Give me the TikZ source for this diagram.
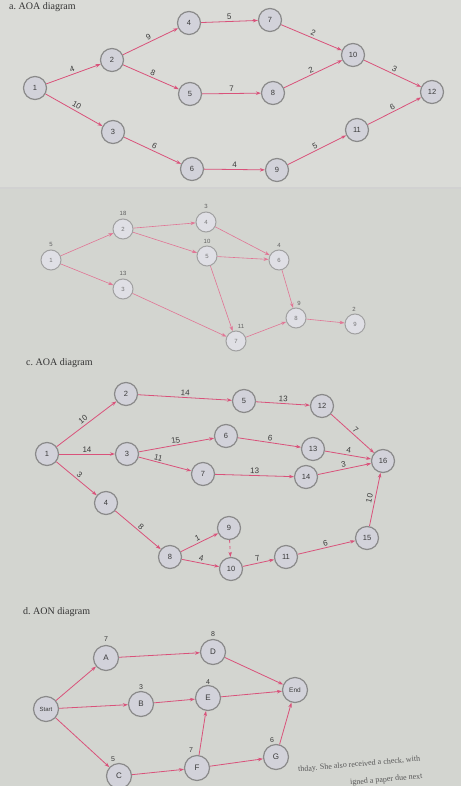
\documentclass[tikz,border=0pt]{standalone}
\usepackage{fontspec}
\setmainfont{Liberation Serif}
\setsansfont{Liberation Sans}
\usetikzlibrary{arrows.meta}
\definecolor{bg}{HTML}{D3D5D0}
\definecolor{bgtop}{HTML}{DADBD7}
\definecolor{edge}{HTML}{D9527A}
\definecolor{nfill}{HTML}{D2D2DA}
\definecolor{nline}{HTML}{8A8A8A}
\definecolor{ntext}{HTML}{3A3A3A}
\tikzset{
 ev/.style={circle,draw=nline,line width=1.2pt,fill=nfill,minimum size=23pt,inner sep=0pt,font=\sffamily\fontsize{7.5}{8}\selectfont,text=ntext},
 evb/.style={ev,minimum size=20pt,line width=1pt,draw=nline!80,fill=nfill!70,font=\sffamily\fontsize{6}{7}\selectfont,text=ntext!70},
 evd/.style={ev,minimum size=25pt,font=\sffamily\fontsize{8}{9}\selectfont},
 act/.style={draw=edge,line width=0.8pt,-{Stealth[length=5pt,width=3.5pt]}},
 actb/.style={act,draw=edge!80,line width=0.6pt},
 lbl/.style={font=\sffamily\fontsize{8}{9}\selectfont,text=ntext,sloped,above,inner sep=1.5pt},
 lblf/.style={lbl,inner sep=2.5pt},
 dur/.style={font=\sffamily\fontsize{7}{8}\selectfont,text=ntext},
 durb/.style={font=\sffamily\fontsize{6}{7}\selectfont,text=ntext!80},
 ttl/.style={font=\fontsize{10}{12}\selectfont,text=black!80,anchor=west,inner sep=0pt},
}
\begin{document}
\begin{tikzpicture}[x=1pt,y=-1pt]
\path[fill=bg,use as bounding box] (0,0) rectangle (461,786);
\fill[bgtop] (0,0) rectangle (461,188);
\fill[black!18] (0,187) rectangle (461,189);

% ---------- a ----------
\node[ttl] (ta) at (9,7) {a.\ AOA diagram};
\node[ev] (a1) at (35,88) {1};
\node[ev] (a2) at (112,60) {2};
\node[ev] (a3) at (113,132) {3};
\node[ev] (a4) at (189,23) {4};
\node[ev] (a5) at (190,94) {5};
\node[ev] (a6) at (192,169) {6};
\node[ev] (a7) at (270,20) {7};
\node[ev] (a8) at (273,93) {8};
\node[ev] (a9) at (277,170) {9};
\node[ev] (a10) at (353,55) {10};
\node[ev] (a11) at (357,130) {11};
\node[ev] (a12) at (432,92) {12};
\draw[act] (a1) -- node[lbl] {4} (a2);
\draw[act] (a1) -- node[lblf] {10} (a3);
\draw[act] (a2) -- node[lbl] {9} (a4);
\draw[act] (a2) -- node[lbl] {8} (a5);
\draw[act] (a3) -- node[lbl] {6} (a6);
\draw[act] (a4) -- node[lbl] {5} (a7);
\draw[act] (a5) -- node[lbl] {7} (a8);
\draw[act] (a6) -- node[lbl] {4} (a9);
\draw[act] (a7) -- node[lbl] {2} (a10);
\draw[act] (a8) -- node[lbl] {2} (a10);
\draw[act] (a9) -- node[lbl] {5} (a11);
\draw[act] (a10) -- node[lbl] {3} (a12);
\draw[act] (a11) -- node[lbl] {6} (a12);

% ---------- b ----------
\node[evb] (b1) at (51,260) {1};
\node[evb] (b2) at (123,229) {2};
\node[evb] (b3) at (123,289) {3};
\node[evb] (b4) at (206,222) {4};
\node[evb] (b5) at (207,256) {5};
\node[evb] (b6) at (279,260) {6};
\node[evb] (b7) at (236,341) {7};
\node[evb] (b8) at (296,318) {8};
\node[evb] (b9) at (355,324) {9};
\node[durb] at (51,244) {5};
\node[durb] at (123,213) {18};
\node[durb] at (123,273) {13};
\node[durb] at (206,206) {3};
\node[durb] at (207,241) {10};
\node[durb] at (279,245) {4};
\node[durb] at (241,326) {11};
\node[durb] at (299,303) {9};
\node[durb] at (354,309) {2};
\draw[actb] (b1) -- (b2);
\draw[actb] (b1) -- (b3);
\draw[actb] (b2) -- (b4);
\draw[actb] (b2) -- (b5);
\draw[actb] (b3) -- (b7);
\draw[actb] (b4) -- (b6);
\draw[actb] (b5) -- (b6);
\draw[actb] (b5) -- (b7);
\draw[actb] (b6) -- (b8);
\draw[actb] (b7) -- (b8);
\draw[actb] (b8) -- (b9);

% ---------- c ----------
\node[ttl] (tc) at (26,363) {c.\ AOA diagram};
\node[ev] (c1) at (47,454) {1};
\node[ev] (c2) at (126,394) {2};
\node[ev] (c3) at (127,454) {3};
\node[ev] (c4) at (106,503) {4};
\node[ev] (c5) at (244,401) {5};
\node[ev] (c6) at (226,436) {6};
\node[ev] (c7) at (203,474) {7};
\node[ev] (c8) at (170,557) {8};
\node[ev] (c9) at (229,528) {9};
\node[ev] (c10) at (231,569) {10};
\node[ev] (c11) at (286,557) {11};
\node[ev] (c12) at (322,406) {12};
\node[ev] (c13) at (313,449) {13};
\node[ev] (c14) at (306,477) {14};
\node[ev] (c15) at (367,538) {15};
\node[ev] (c16) at (383,461) {16};
\draw[act] (c1) -- node[lblf] {10} (c2);
\draw[act] (c1) -- node[lbl] {14} (c3);
\draw[act] (c1) -- node[lbl] {3} (c4);
\draw[act] (c2) -- node[lbl] {14} (c5);
\draw[act] (c3) -- node[lbl] {15} (c6);
\draw[act] (c3) -- node[lbl,pos=.35] {11} (c7);
\draw[act] (c4) -- node[lbl] {8} (c8);
\draw[act] (c5) -- node[lbl] {13} (c12);
\draw[act] (c6) -- node[lbl] {6} (c13);
\draw[act] (c7) -- node[lbl] {13} (c14);
\draw[act] (c8) -- node[lbl] {1} (c9);
\draw[act] (c8) -- node[lbl] {4} (c10);
\draw[act,dashed] (c9) -- (c10);
\draw[act] (c10) -- node[lbl] {7} (c11);
\draw[act] (c11) -- node[lbl] {6} (c15);
\draw[act] (c12) -- node[lbl] {7} (c16);
\draw[act] (c13) -- node[lbl] {4} (c16);
\draw[act] (c14) -- node[lbl] {3} (c16);
\draw[act] (c15) -- node[lblf] {10} (c16);

% ---------- d ----------
\node[ttl] (td) at (23,612) {d.\ AON diagram};
\node[evd,font=\sffamily\fontsize{6}{7}\selectfont] (ds) at (46,709) {Start};
\node[evd] (dA) at (106,658) {A};
\node[evd] (dB) at (141,704) {B};
\node[evd] (dC) at (119,776) {C};
\node[evd] (dD) at (213,652) {D};
\node[evd] (dE) at (208,698) {E};
\node[evd] (dF) at (197,768) {F};
\node[evd] (dG) at (276,757) {G};
\node[evd,font=\sffamily\fontsize{6.5}{7}\selectfont] (de) at (295,690) {End};
\node[dur] at (106,639) {7};
\node[dur] at (141,687) {3};
\node[dur] at (113,759) {5};
\node[dur] at (213,634) {8};
\node[dur] at (208,682) {4};
\node[dur] at (191,750) {7};
\node[dur] at (272,740) {6};
\draw[act] (ds) -- (dA);
\draw[act] (ds) -- (dB);
\draw[act] (ds) -- (dC);
\draw[act] (dA) -- (dD);
\draw[act] (dB) -- (dE);
\draw[act] (dC) -- (dF);
\draw[act] (dF) -- (dE);
\draw[act] (dF) -- (dG);
\draw[act] (dD) -- (de);
\draw[act] (dE) -- (de);
\draw[act] (dG) -- (de);

% page text at bottom right
\node[font=\fontsize{8}{9}\selectfont,text=black!65,anchor=west,rotate=5,inner sep=0pt] (p1) at (298,770) {thday. She also received a check, with};
\node[font=\fontsize{8}{9}\selectfont,text=black!65,anchor=west,rotate=5,inner sep=0pt] (p2) at (350,783) {igned a paper due next};
\end{tikzpicture}
\end{document}
